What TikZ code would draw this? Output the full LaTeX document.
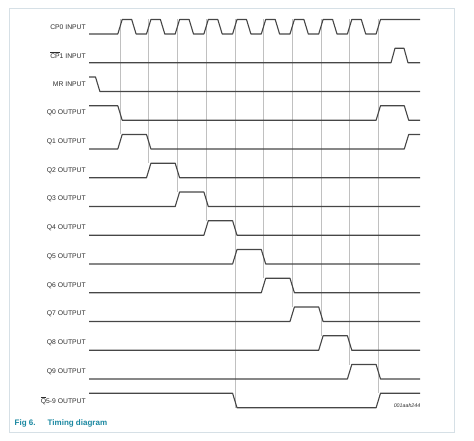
\documentclass[tikz,border=0pt]{standalone}
\usepackage{fontspec}
\setmainfont{Liberation Sans}
\definecolor{wavec}{RGB}{70,70,70}
\definecolor{gridc}{RGB}{192,192,192}
\definecolor{framec}{RGB}{214,224,230}
\definecolor{labc}{RGB}{45,45,45}
\definecolor{captc}{RGB}{25,135,160}
\begin{document}
\begin{tikzpicture}[x=1pt,y=-1pt,
  wave/.style={draw=wavec, line width=1.1pt, line join=round},
  gridline/.style={draw=gridc, line width=0.5pt},
  lab/.style={anchor=east, font=\fontsize{6.8}{8}\selectfont, text=labc, inner sep=0pt},
  capt/.style={anchor=west, font=\bfseries\fontsize{8}{10}\selectfont, text=captc, inner sep=0pt}]
\useasboundingbox (0,0) rectangle (474,441);
\draw[framec, line width=0.8pt] (9.5,8.5) rectangle (454.5,432.5);
% grid lines at CP0 rising edges
\foreach \k/\ye in {0/134.5, 1/163.25, 2/192, 3/220.75, 4/407.75, 5/278.25, 6/307, 7/335.75, 8/364.5, 9/393.25}{
  \draw[gridline] ({120+28.7*\k},19.5) -- ({120+28.7*\k},\ye);
}
% CP0
\draw[wave] (89,34) \foreach \k in {0,...,8}{ -- ({120+28.7*\k-2.2},34) -- ({120+28.7*\k+2.2},19.5) -- ({120+28.7*\k+11.7},19.5) -- ({120+28.7*\k+16.1},34) } -- (376.1,34) -- (380.5,19.5) -- (420,19.5);
% CP1
\draw[wave] (89,62.75) -- (391,62.75) -- (395,48.25) -- (404,48.25) -- (408,62.75) -- (420,62.75);
% MR
\draw[wave] (89,77) -- (95.5,77) -- (99.9,91.5) -- (420,91.5);
% Q0
\draw[wave] (89,105.75) -- (117.8,105.75) -- (122.2,120.25) -- (376.1,120.25) -- (380.5,105.75) -- (404.3,105.75) -- (408.7,120.25) -- (420,120.25);
% Q1
\draw[wave] (89,149) -- (117.8,149) -- (122.2,134.5) -- (146.5,134.5) -- (150.9,149) -- (404.3,149) -- (408.7,134.5) -- (420,134.5);
% Q2..Q9
\foreach \n in {2,...,9}{
  \pgfmathsetmacro\yl{34+28.75*(\n+3)}
  \pgfmathsetmacro\yh{\yl-14.5}
  \pgfmathsetmacro\xa{120+28.7*(\n-1)}
  \pgfmathsetmacro\xb{120+28.7*\n}
  \draw[wave] (89,\yl) -- ({\xa-2.2},\yl) -- ({\xa+2.2},\yh) -- ({\xb-2.2},\yh) -- ({\xb+2.2},\yl) -- (420,\yl);
}
% Q5-9 bar
\draw[wave] (89,393.25) -- (232.6,393.25) -- (237,407.75) -- (376.1,407.75) -- (380.5,393.25) -- (420,393.25);
% labels
\node[lab] (lcp0) at (86,26.75) {CP0 INPUT};
\node[lab] (lcp1) at (86,55.5) {$\overline{\hbox{CP}}$1 INPUT};
\node[lab] (lmr) at (86,84.25) {MR INPUT};
\foreach \n in {0,...,9}{
  \pgfmathsetmacro\yc{34+28.75*(\n+3)-7.25}
  \node[lab] (lq\n) at (86,\yc) {Q\n\ OUTPUT};
}
\node[lab] (lq59) at (86,400.5) {$\overline{\hbox{Q}}$5-9 OUTPUT};
\node[anchor=east, inner sep=0pt, font=\itshape\fontsize{5.3}{6}\selectfont, text=labc] (code) at (420.5,405.5) {001aah244};
% caption
\node[capt] (fig) at (14.5,423) {Fig 6.};
\node[capt] (title) at (47.5,423) {Timing diagram};
\end{tikzpicture}
\end{document}
